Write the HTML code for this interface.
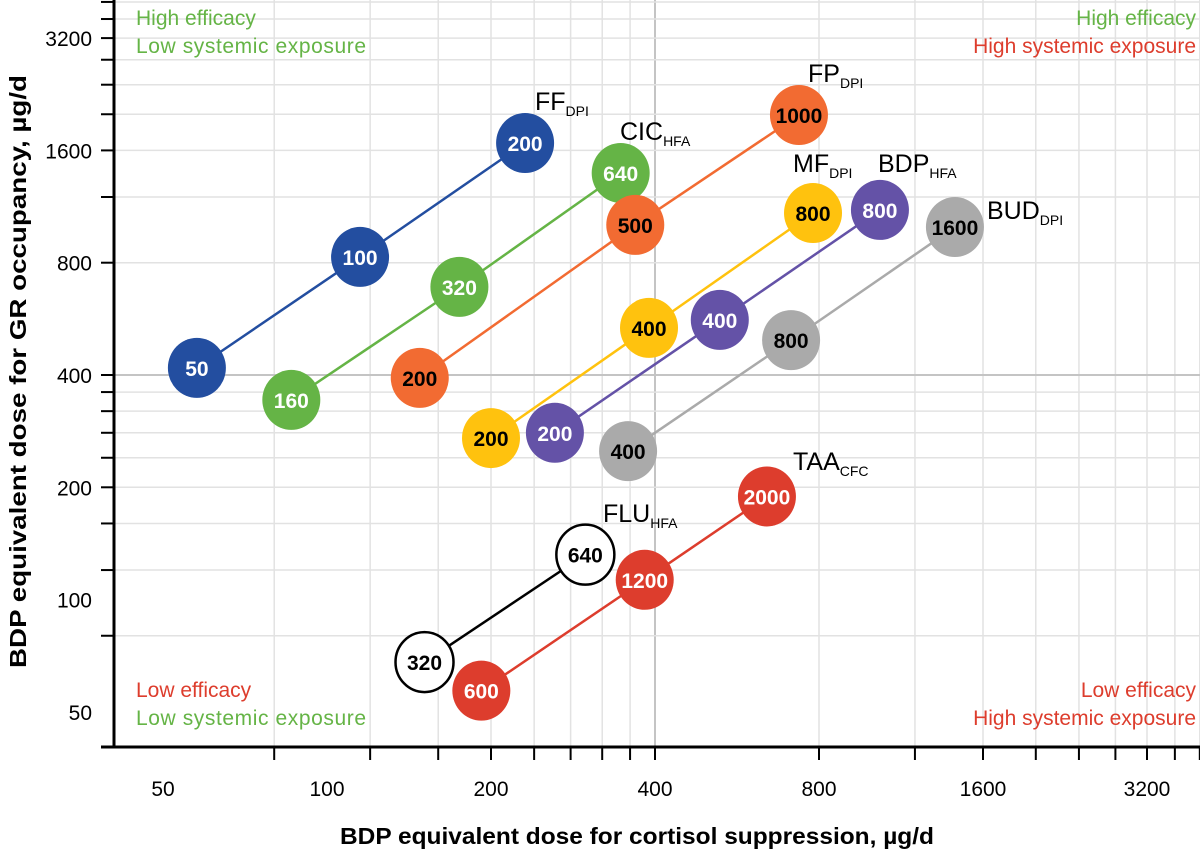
<!DOCTYPE html>
<html><head><meta charset="utf-8">
<style>
html,body{margin:0;padding:0;background:#fff;}
svg{display:block;font-family:"Liberation Sans",Arial,sans-serif;}
</style></head>
<body>
<svg id="chart" width="1200" height="852" viewBox="0 0 1200 852">
<g id="grid"></g>
<g id="axes"></g>
<g id="series"></g>
<g font-size="21">
<text x="136" y="25" fill="#65b446">High efficacy</text>
<text x="136" y="53" fill="#65b446" textLength="230">Low systemic exposure</text>
<text x="1196" y="25" fill="#65b446" text-anchor="end">High efficacy</text>
<text x="1196" y="53" fill="#dd3d2d" text-anchor="end">High systemic exposure</text>
<text x="136" y="697" fill="#dd3d2d">Low efficacy</text>
<text x="136" y="725" fill="#65b446" textLength="230">Low systemic exposure</text>
<text x="1196" y="697" fill="#dd3d2d" text-anchor="end">Low efficacy</text>
<text x="1196" y="725" fill="#dd3d2d" text-anchor="end">High systemic exposure</text>
</g>
<text x="340" y="844" font-size="23" font-weight="bold" textLength="594" lengthAdjust="spacingAndGlyphs">BDP equivalent dose for cortisol suppression, µg/d</text>
<text transform="translate(26,668) rotate(-90)" font-size="23" font-weight="bold" textLength="593" lengthAdjust="spacingAndGlyphs">BDP equivalent dose for GR occupancy, µg/d</text>
</svg>
<script>
const xTickVals=[40,80,120,160,200,240,280,320,360,400,800,1200,1600,2000,2400,2800,3200,3600,4000];
const yTickVals=[40,80,120,160,200,240,280,320,360,400,800,1200,1600,2000,2400,2800,3200,3600,4000];
const xLabels=[50,100,200,400,800,1600,3200];
const yLabels=[50,100,200,400,800,1600,3200];
const seriesNames=["FF","CIC","FP","MF","BDP","BUD","TAA","FLU"];
const seriesSubs=["DPI","HFA","DPI","DPI","HFA","DPI","CFC","HFA"];
const doseFF=[50,100,200], ffX=[57.7,115,231], ffY=[418,829,1675];
const doseCIC=[160,320,640], cicX=[86,175,346], cicY=[343,689,1392];
const doseFP=[200,500,1000], fpX=[148,368,735], fpY=[393,1010,1990];
const doseMF=[200,400,800], mfX=[200,390,780], mfY=[271,535,1087];
const doseBDP=[200,400,800], bdpX=[262,526,1035], bdpY=[280,562,1108];
const doseBUD=[400,800,1600], budX=[357,711,1421], budY=[250,496,997];
const doseTAA=[600,1200,2000], taaX=[192,383,642], taaY=[57,113,189];
const doseFLU=[320,640], fluX=[151,298], fluY=[68,132];

const X=v=>655+164*Math.log2(v/400);
const Y=v=>375-112.3*Math.log2(v/400);
const NS="http://www.w3.org/2000/svg";
function mk(tag,attrs,parent){const e=document.createElementNS(NS,tag);for(const k in attrs)e.setAttribute(k,attrs[k]);parent.appendChild(e);return e;}
const grid=document.getElementById('grid'),axes=document.getElementById('axes'),ser=document.getElementById('series');
xTickVals.forEach(v=>{const x=X(v);if(x<114||x>1200)return;
 const g=mk('line',{x1:x,x2:x,y1:0,y2:747,stroke:v===400?'#c4c4c4':'#e2e2e2','stroke-width':v===400?2:1.5},grid);
 
 
 const t=mk('line',{x1:x,x2:x,y1:747,y2:760,stroke:'#000','stroke-width':2},axes);
 
 });
yTickVals.forEach(v=>{const y=Y(v);if(y<0||y>747)return;
 const g=mk('line',{x1:114,x2:1200,y1:y,y2:y,stroke:v===400?'#c4c4c4':'#e2e2e2','stroke-width':v===400?2:1.5},grid);
 
 
 const t=mk('line',{x1:101,x2:114,y1:y,y2:y,stroke:'#000','stroke-width':2},axes);
 
 });
let a=mk('line',{x1:114,x2:114,y1:0,y2:748,stroke:'#000','stroke-width':3},axes);


a=mk('line',{x1:101,x2:1200,y1:747,y2:747,stroke:'#000','stroke-width':3},axes);


xLabels.forEach(v=>{const t=mk('text',{x:X(v),y:796,'text-anchor':'middle','font-size':21},axes);t.textContent=v;
 
 });
yLabels.forEach(v=>{const t=mk('text',{x:92,y:Y(v)+8,'text-anchor':'end','font-size':21},axes);t.textContent=v;
 
 });

const data=[
 [doseFF,ffX,ffY,'#234ea0','#fff',[535,110]],
 [doseCIC,cicX,cicY,'#65b446','#fff',[620,140]],
 [doseFP,fpX,fpY,'#f26b32','#000',[808,82]],
 [doseMF,mfX,mfY,'#ffc20e','#000',[793,172]],
 [doseBDP,bdpX,bdpY,'#6452a7','#fff',[878,172]],
 [doseBUD,budX,budY,'#aaaaaa','#000',[987,219]],
 [doseTAA,taaX,taaY,'#dd3d2d','#fff',[793,470]],
 [doseFLU,fluX,fluY,'#000','#000',[603,522]]];
data.forEach((d,i)=>{const [dose,xs,ys,col,tc,lab]=d;const isFlu=i===7;
 const g=mk('g',{},ser);
 
 
 const pts=xs.map((x,j)=>X(x)+','+Y(ys[j])).join(' ');
 const l=mk('polyline',{points:pts,fill:'none',stroke:col,'stroke-width':2.5},g);
 
 
 xs.forEach((x,j)=>{
  const c=mk('ellipse',{cx:X(x),cy:Y(ys[j]),rx:29,ry:30,fill:isFlu?'#fff':col,stroke:isFlu?'#000':'none','stroke-width':2.5},g);
  
  
  const t=mk('text',{x:X(x),y:Y(ys[j])+8,'text-anchor':'middle','font-size':21,'font-weight':'bold',fill:tc},g);
  t.textContent=dose[j];
  
  });
 const t=mk('text',{x:lab[0],y:lab[1],'font-size':25},g);
 t.innerHTML=seriesNames[i]+'<tspan font-size="14" dy="6">'+seriesSubs[i]+'</tspan>';
 
 
});
</script>
</body></html>
